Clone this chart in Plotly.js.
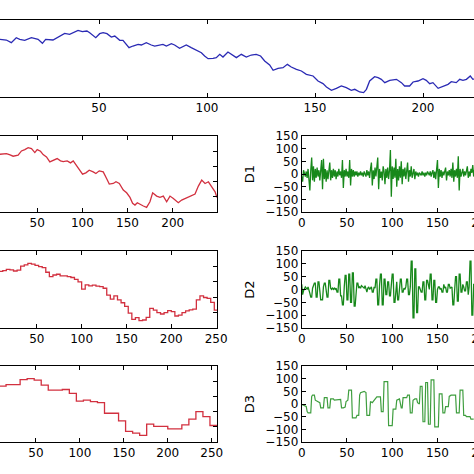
<!DOCTYPE html>
<html><head><meta charset="utf-8">
<script src="https://cdn.plot.ly/plotly-3.0.1.min.js"></script>
<style>
html,body{margin:0;padding:0;overflow:hidden;background:#fff;width:474px;height:474px;}
#chart{position:absolute;left:-100px;top:0;width:700px;height:474px;}
</style></head><body><div id="chart"></div><script>
// Original signal (top panel)
const sigX = [0,2,4.0,7.1,9.4,11.7,13.3,15.6,18.7,20.2,21.8,23.8,25.3,28.7,31.8,34.1,36.4,38.3,40.3,42.3,44.4,45.7,48.5,50.3,51.9,53.7,55.7,57.3,59.6,61.1,63.9,65.7,68.1,69.6,71.9,74.2,75.8,79.6,81.2,83.5,85.0,87.3,90.4,92.7,95.1,97.4,98.9,100.5,102.8,104.3,105.9,107.4,109.7,111.3,113.6,115.9,118.2,120.5,122.8,124.8,126.7,129.0,130.6,132.9,135.2,137.2,139.0,141.4,143.7,146.0,147.5,149.1,151.4,153.7,155.3,157.6,159.9,162.2,164.5,166.8,168.4,170.7,172.5,173.8,175.3,177.6,179.2,180.7,182.3,184.6,187.7,190.0,191.5,193.8,195.4,197.7,200.0,201.5,203.1,204.6,207.0,209.3,211.6,213.1,215.4,217.0,218.5,220.1,221.9,223.1,224.7,226.5,228.4,230.3,232.1,234.0,235.8,237.6,239.5,241.4,243.2,245.0,246.9,248.7,250];
const sigY = [1860,1880,1872,1850,1764,1926,1872,1839,1926,1904,1872,1742,1872,1850,1980,2067,2034,2088,2164,2121,2142,2088,1926,2056,2088,2056,1948,1980,1839,1839,1601,1655,1710,1688,1764,1688,1655,1710,1655,1731,1688,1580,1688,1601,1515,1439,1331,1244,1255,1277,1385,1298,1461,1385,1277,1385,1298,1363,1385,1331,1169,1039,866,931,952,1060,974,898,844,736,714,682,519,433,325,216,281,357,303,216,249,162,141,249,519,660,628,573,465,541,573,465,357,357,487,519,595,541,433,465,281,357,411,498,465,573,541,573,682,573,600,700,860,960,1060,980,940,1000,990,900,840,760,660,520,480];

// Approximation A1
const a1X = [0,4,8.6,12,16.0,20,23.4,28.9,32.6,36.3,40.0,43.7,47.4,50.0,53.7,56.6,60.3,64.0,67.7,72.1,75.8,78.8,83.2,86.9,89.9,92.8,96.5,100.2,103.9,107.6,112.0,115.0,118.7,123.1,126.8,129.8,134.2,137.2,140.9,145.3,149.0,152.7,155.6,158.2,160.8,163.8,167.5,171.1,174.8,177.8,182.2,185.9,189.6,193.3,197.0,200.7,206.2,209.9,213.6,219.2,224.7,228.4,232.1,235.8,239.5,243.2,246.9,248.7,249];
const a1Y = [1870,1880,1889,1900,1922,1880,1835,1867,2009,2053,2118,2086,1955,2053,1998,1889,1813,1649,1704,1758,1682,1660,1682,1616,1682,1562,1431,1245,1289,1376,1321,1267,1354,1321,1103,917,939,994,939,721,633,480,284,229,306,251,197,153,339,633,524,480,524,339,524,448,306,393,448,524,590,852,1048,939,994,830,666,502,480];

// Approximation A2 (steps)
const a2X = [0,4,8,12,16,20,24,28,32,36,40,44,48,52,56,60,64,68,72,76,80,84,88,92,96,100,104,108,112,116,120,124,128,132,136,140,144,148,152,156,160,164,168,172,176,180,184,188,192,196,200,204,208,212,216,220,224,228,232,236,240,244,248,251];
const a2Y = [1830,1830,1840,1860,1900,1885,1850,1880,2010,2050,2100,2075,2030,1990,1960,1810,1670,1720,1745,1690,1690,1665,1640,1580,1500,1260,1400,1370,1395,1360,1345,1290,1070,940,1040,910,820,700,480,280,340,240,260,345,640,580,500,455,500,565,530,390,420,500,555,590,610,910,1040,990,960,830,580,580];

// Approximation A3 (steps)
const a3X = [0,8,16,24,32,40,48,56,64,72,80,88,96,104,112,120,128,136,144,152,160,168,176,184,192,200,208,216,224,232,240,248,256];
const a3Y = [1837,1837,1891,1891,2054,2087,2033,1870,1707,1707,1728,1598,1348,1380,1326,1294,946,946,696,348,293,217,587,511,511,435,435,565,750,1000,837,543,543];

// Detail D1 (x = sample index)
const d1Y = [-10,-30,15,5,-10,10,-15,20,-20,-65,15,65,-25,30,-30,20,-15,25,-10,15,-25,30,55,-60,60,-20,20,-30,15,-20,10,45,-25,15,-15,20,-10,15,-20,10,-10,20,-5,10,-15,55,-55,15,-10,20,-10,10,-15,55,-45,20,-10,15,-10,10,-5,10,-10,5,-5,10,-5,5,-10,10,0,-10,15,-5,10,-15,20,45,-45,15,-20,25,-10,20,65,-60,20,-15,10,-25,30,10,-40,20,-15,25,-20,15,95,-90,30,-20,25,-15,60,-50,20,-25,30,-15,50,-40,20,-10,25,-20,10,45,-30,15,-10,30,-15,10,20,-20,10,-5,5,-10,5,0,-5,10,-5,5,-10,5,-5,10,0,-5,10,-10,5,15,-15,10,-20,15,55,-55,20,-10,15,-15,10,-5,10,25,-25,10,-5,15,-10,20,-15,45,-30,15,-10,20,-15,70,-65,20,-10,15,20,-10,10,-5,15,30,-15,10,-10,20,5,35,-10,15,-20,10];

// Detail D2 (x = sample index)
const d2Y = [20,-20,-5,5,10,5,0,10,0,-15,-30,-30,5,15,25,25,-30,-30,30,30,0,-40,-40,-40,10,25,25,5,-30,-30,35,35,5,0,5,0,5,0,5,-10,-10,40,40,-25,-25,-60,-60,10,55,55,-40,-40,60,60,-50,-50,65,65,-65,-65,10,25,25,5,10,5,15,10,10,5,15,5,-10,5,10,0,5,10,-10,-10,10,5,40,40,-60,-60,15,60,60,-60,-60,40,40,-20,-20,30,30,-25,-25,10,60,60,-50,-50,10,30,-40,-40,0,40,40,-10,-10,5,0,10,40,40,-20,-20,10,110,110,-110,-110,80,80,-90,-90,10,10,0,-10,-10,30,30,-40,-40,35,35,10,0,60,60,-40,-40,35,35,-50,-50,0,10,10,0,5,-10,-10,20,5,10,-10,-10,20,20,5,10,10,-60,-60,0,50,50,-45,-45,60,60,-10,-10,20,10,-5,-5,30,30,-20,10,110,110,-100,-100,20,20];

// Detail D3
const d3X = [0,3,5,6,7,10,11,12,14,15,18,20,21,24,25,28,29,31,32,35,36,41,43,44,46,48,49,51,52,55,56,60,61,63,64,65,69,71,72,75,76,78,80,82,83,87,88,90,91,95,96,100,101,104,105,108,110,111,112,116,117,119,120,122,123,125,127,128,130,131,133,134,136,137,139,140,142,143,146,147,151,152,155,156,158,159,162,163,165,170,171,174,175,178,179,181,182,186,187,190];
const d3Y = [-2,-5,-10,-30,-35,-35,30,35,35,15,10,5,-15,-15,25,25,-15,-15,20,20,15,18,18,-15,-15,-12,10,15,55,55,-55,-55,-45,-45,35,45,50,45,-45,-45,10,5,15,20,28,28,-30,-30,88,88,-85,-85,-20,-20,15,20,-15,-15,25,25,35,35,-35,-35,15,20,20,5,0,70,70,-70,-70,85,85,-80,-80,95,95,-90,-90,40,40,-35,-35,-10,-10,30,35,35,-35,-35,55,55,-45,-45,-50,-50,-60,-60];

const approxTicks = [0,500,1000,1500,2000,2500];
const detailTicks = [-150,-100,-50,0,50,100,150];
const idx = a => a.map((_, i) => i);

const FONT = {family:'DejaVu Sans, sans-serif', size:12, color:'#000'};
function axis(domain, range, tickvals, anchor, extra){
  return Object.assign({domain:domain, range:range, tickvals:tickvals, anchor:anchor,
    ticks:'inside', ticklen:4, tickwidth:1, tickcolor:'#000', mirror:'ticks',
    showline:true, linecolor:'#000', linewidth:1, showgrid:false, zeroline:false,
    tickfont:FONT, fixedrange:true}, extra||{});
}
const xt = [0,50,100,150,200,250];
const L = [0.00185,0.4185], R = [0.5754,0.9944];
const rowTop=[0.7954,0.9578], r1=[0.5527,0.7131], r2=[0.3080,0.4705], r3=[0.0675,0.2278];

const blue='#2a2ab4', red='#d2303f', green='#17881a', green3='#3f9e3f';
const traces = [
  {x:sigX, y:sigY, xaxis:'x', yaxis:'y', mode:'lines', line:{color:blue, width:1.3}},
  {x:a1X, y:a1Y, xaxis:'x2', yaxis:'y2', mode:'lines', line:{color:red, width:1.3}},
  {x:idx(d1Y), y:d1Y, xaxis:'x3', yaxis:'y3', mode:'lines', line:{color:green, width:1.3}},
  {x:a2X, y:a2Y, xaxis:'x4', yaxis:'y4', mode:'lines', line:{color:red, width:1.3, shape:'hv'}},
  {x:idx(d2Y), y:d2Y, xaxis:'x5', yaxis:'y5', mode:'lines', line:{color:green, width:1.3}},
  {x:a3X, y:a3Y, xaxis:'x6', yaxis:'y6', mode:'lines', line:{color:red, width:1.3, shape:'hv'}},
  {x:d3X, y:d3Y, xaxis:'x7', yaxis:'y7', mode:'lines', line:{color:green3, width:1.2}}
];
const dTitle = t => ({text:t, font:{family:'DejaVu Sans, sans-serif', size:13, color:'#000'}, standoff:7});
const layout = {
  width:700, height:474, showlegend:false,
  margin:{l:91, r:69, t:0, b:0, pad:0},
  paper_bgcolor:'#fff', plot_bgcolor:'#fff',
  xaxis: axis([0,1], [0,250], xt, 'y'),
  yaxis: axis(rowTop, [0,2500], approxTicks, 'x'),
  xaxis2: axis(L, [0,249], xt, 'y2'),
  yaxis2: axis(r1, [0,2500], approxTicks, 'x2'),
  xaxis3: axis(R, [0,250], xt, 'y3'),
  yaxis3: axis(r1, [-150,150], detailTicks, 'x3', {title:dTitle('D1')}),
  xaxis4: axis(L, [0,251], xt, 'y4'),
  yaxis4: axis(r2, [0,2500], approxTicks, 'x4'),
  xaxis5: axis(R, [0,250], xt, 'y5'),
  yaxis5: axis(r2, [-150,150], detailTicks, 'x5', {title:dTitle('D2')}),
  xaxis6: axis(L, [0,256], xt, 'y6'),
  yaxis6: axis(r3, [0,2500], approxTicks, 'x6'),
  xaxis7: axis(R, [0,250], xt, 'y7'),
  yaxis7: axis(r3, [-150,150], detailTicks, 'x7', {title:dTitle('D3')})
};
Plotly.newPlot('chart', traces, layout, {staticPlot:true, displayModeBar:false});
</script></body></html>
